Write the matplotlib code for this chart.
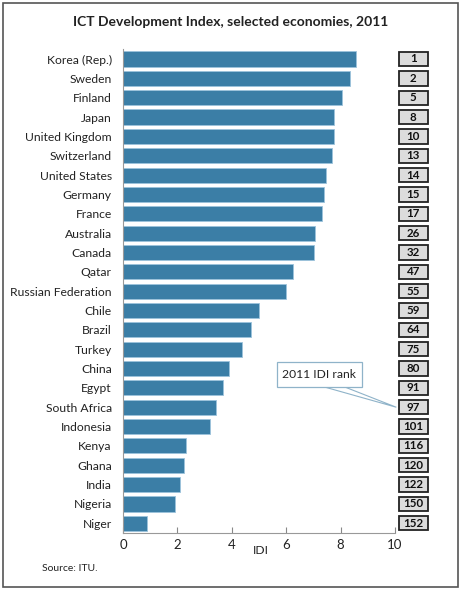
import numpy as np
import matplotlib.pyplot as plt
from matplotlib.patches import Rectangle, Polygon

plt.rcParams['font.family'] = ['Lato', 'DejaVu Sans']

# datos
paises = ['Korea (Rep.)', 'Sweden', 'Finland', 'Japan', 'United Kingdom',
          'Switzerland', 'United States', 'Germany', 'France', 'Australia',
          'Canada', 'Qatar', 'Russian Federation', 'Chile', 'Brazil', 'Turkey',
          'China', 'Egypt', 'South Africa', 'Indonesia', 'Kenya', 'Ghana',
          'India', 'Nigeria', 'Niger']
idi = [8.56, 8.34, 8.04, 7.76, 7.75, 7.68, 7.48, 7.39, 7.30, 7.05,
       7.04, 6.24, 6.00, 5.01, 4.72, 4.38, 3.88, 3.66, 3.42, 3.19,
       2.32, 2.23, 2.10, 1.93, 0.88]
rank = [1, 2, 5, 8, 10, 13, 14, 15, 17, 26, 32, 47, 55, 59, 64, 75,
        80, 91, 97, 101, 116, 120, 122, 150, 152]
xticks = [0, 2, 4, 6, 8, 10]

fig = plt.figure(figsize=(4.62, 5.90), dpi=100)
ax = fig.add_axes([0.2662, 0.0966, 0.5887, 0.8198])

y = np.arange(len(paises))
ax.barh(y, idi, height=0.78, color='#3b7ea6', edgecolor='#9cc3dc', linewidth=0.6)

ax.set_ylim(len(paises) - 0.5, -0.5)
ax.set_xlim(0, 10)
ax.set_yticks(y)
ax.set_yticklabels(paises, fontsize=8.7, color='#222222')
ax.set_xticks(xticks)
ax.set_xticklabels([str(v) for v in xticks], fontsize=9.5, color='#222222')
ax.tick_params(axis='y', length=0, pad=8)
ax.tick_params(axis='x', direction='in', length=4, color='#888888', pad=4)
for s in ['top', 'right']:
    ax.spines[s].set_visible(False)
ax.spines['left'].set_color('#999999')
ax.spines['bottom'].set_color('#999999')

# cajas de rango
trans = ax.get_yaxis_transform()
for i, r in enumerate(rank):
    ax.add_patch(Rectangle((1.015, i - 0.37), 0.105, 0.74, transform=trans,
                           facecolor='#dcdcdc', edgecolor='#222222',
                           linewidth=1.3, clip_on=False))
    ax.text(1.0675, i, str(r), transform=trans, ha='center', va='center',
            fontsize=8.3, fontweight='bold', color='#111111', clip_on=False)

# nota "2011 IDI rank"
ax.add_patch(Polygon([(7.4, 16.95), (8.15, 16.95), (10.05, 18.0)],
                     closed=True, facecolor='white', edgecolor='#8fb3c9',
                     linewidth=0.8, clip_on=False, zorder=3))
ax.add_patch(Rectangle((5.65, 15.65), 3.15, 1.3, facecolor='white',
                       edgecolor='#8fb3c9', linewidth=0.9, zorder=4))
ax.text(7.22, 16.3, '2011 IDI rank', ha='center', va='center', fontsize=8.7,
        color='#222222', zorder=5)

# Detalles del Canvas
fig.text(0.5, 0.962, 'ICT Development Index, selected economies, 2011',
         ha='center', va='center', fontsize=10, fontweight='bold', color='#222222')
fig.text(0.565, 0.067, 'IDI', ha='center', va='center', fontsize=8.7, color='#222222')
fig.text(0.091, 0.037, 'Source: ITU.', ha='left', va='center', fontsize=7.5, color='#222222')
fig.add_artist(Rectangle((0.006, 0.005), 0.985, 0.99, transform=fig.transFigure,
                         fill=False, edgecolor='#555555', linewidth=1.2))

fig.savefig('out.png', dpi=100)
